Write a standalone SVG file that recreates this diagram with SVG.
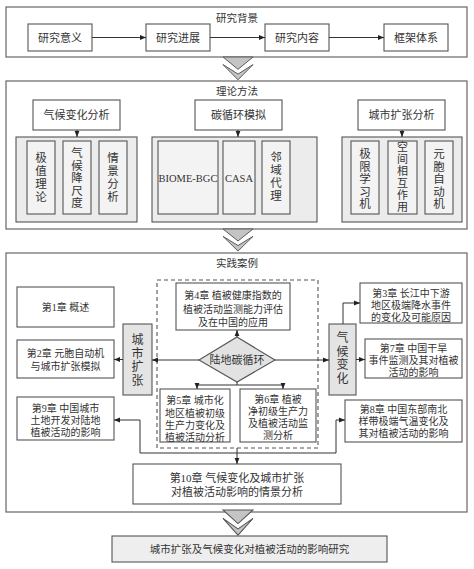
<svg xmlns="http://www.w3.org/2000/svg" width="474" height="569" viewBox="0 0 474 569">
<style>
text{font-family:"Liberation Serif","Noto Sans CJK SC",serif;fill:#333;text-anchor:middle;dominant-baseline:central}
.t10{font-size:10px}.t105{font-size:10.5px}.t11{font-size:11px}.t12{font-size:12px}.tv{font-size:11.5px}
.sec{fill:#fff;stroke:#666;stroke-width:1.2}
.box{fill:#fff;stroke:#555;stroke-width:1.1}
.cont{fill:#ececec;stroke:#555;stroke-width:1.1}
.inner{fill:#f3f3f3;stroke:#555;stroke-width:1.1}
.vbox{fill:#e4e4e4;stroke:#555;stroke-width:1.1}
.dash{fill:none;stroke:#555;stroke-width:1.1;stroke-dasharray:4 3}
.chev{fill:#c4c4c4;stroke:#555;stroke-width:1}
.ln{fill:none;stroke:#333;stroke-width:1}
.arr{fill:none;stroke:#333;stroke-width:1;marker-end:url(#ah)}
</style>
<defs>
<marker id="ah" viewBox="0 0 10 10" refX="10" refY="5" markerWidth="6" markerHeight="6" markerUnits="userSpaceOnUse" orient="auto"><path d="M0,1 L10,5 L0,9 z" fill="#222"/></marker>
<g id="chevron"><polygon points="-15,0 15,0 0,13"/><polygon points="-15,8 0,18 15,8 0,24"/></g>
</defs>

<g id="sec-background">
<rect class="sec" x="6" y="7" width="461" height="50"/>
<text class="t105" x="237" y="18">研究背景</text>
</g>
<g id="n-yjyy"><rect class="box" x="28" y="24" width="64" height="27"/><text class="t11" x="60" y="37.5">研究意义</text></g>
<g id="n-yjjz"><rect class="box" x="146" y="24" width="64" height="27"/><text class="t11" x="178" y="37.5">研究进展</text></g>
<g id="n-yjnr"><rect class="box" x="265" y="24" width="64" height="27"/><text class="t11" x="297" y="37.5">研究内容</text></g>
<g id="n-kjtx"><rect class="box" x="384" y="24" width="64" height="27"/><text class="t11" x="416" y="37.5">框架体系</text></g>

<g id="chev1" class="chev" transform="translate(238,57) scale(1,0.95)"><use href="#chevron"/></g>

<g id="sec-theory">
<rect class="sec" x="6" y="81" width="461" height="148"/>
<text class="t105" x="237" y="91">理论方法</text>
</g>
<g id="n-qhbh"><rect class="box" x="33" y="100" width="87" height="30"/><text class="t11" x="76.5" y="115">气候变化分析</text></g>
<g id="n-txhmn"><rect class="box" x="195" y="100" width="87" height="30"/><text class="t11" x="238.5" y="115">碳循环模拟</text></g>
<g id="n-cskz"><rect class="box" x="358" y="100" width="87" height="30"/><text class="t11" x="401.5" y="115">城市扩张分析</text></g>

<g id="c-climate"><rect class="cont" x="16" y="137" width="121" height="85"/>
<rect class="inner" x="27" y="141" width="28" height="73"/>
<text class="tv"><tspan x="41" y="158">极</tspan><tspan x="41" y="171">值</tspan><tspan x="41" y="184">理</tspan><tspan x="41" y="197">论</tspan></text>
<rect class="inner" x="63" y="141" width="28" height="73"/>
<text class="tv"><tspan x="77" y="153">气</tspan><tspan x="77" y="165.5">候</tspan><tspan x="77" y="178">降</tspan><tspan x="77" y="190.5">尺</tspan><tspan x="77" y="203">度</tspan></text>
<rect class="inner" x="99" y="141" width="28" height="73"/>
<text class="tv"><tspan x="113" y="158">情</tspan><tspan x="113" y="171">景</tspan><tspan x="113" y="184">分</tspan><tspan x="113" y="197">析</tspan></text>
</g>
<g id="c-carbon"><rect class="cont" x="152" y="137" width="165" height="85"/>
<rect class="inner" x="158" y="141" width="60" height="73"/>
<text class="t105" x="188" y="178">BIOME-BGC</text>
<rect class="inner" x="223" y="141" width="32" height="73"/>
<text class="t105" x="239" y="178">CASA</text>
<rect class="inner" x="262" y="141" width="28" height="73"/>
<text class="tv"><tspan x="276" y="157">邻</tspan><tspan x="276" y="170">域</tspan><tspan x="276" y="183">代</tspan><tspan x="276" y="196">理</tspan></text>
</g>
<g id="c-urban"><rect class="cont" x="342" y="137" width="120" height="85"/>
<rect class="inner" x="351" y="141" width="28" height="73"/>
<text class="tv"><tspan x="365" y="154">极</tspan><tspan x="365" y="166.5">限</tspan><tspan x="365" y="179">学</tspan><tspan x="365" y="191.5">习</tspan><tspan x="365" y="204">机</tspan></text>
<rect class="inner" x="388" y="141" width="29" height="73"/>
<text class="t11"><tspan x="402.5" y="147">空</tspan><tspan x="402.5" y="159">间</tspan><tspan x="402.5" y="171">相</tspan><tspan x="402.5" y="183">互</tspan><tspan x="402.5" y="195">作</tspan><tspan x="402.5" y="207">用</tspan></text>
<rect class="inner" x="425" y="141" width="28" height="73"/>
<text class="tv"><tspan x="439" y="154">元</tspan><tspan x="439" y="166.5">胞</tspan><tspan x="439" y="179">自</tspan><tspan x="439" y="191.5">动</tspan><tspan x="439" y="204">机</tspan></text>
</g>

<g id="chev2" class="chev" transform="translate(238,229) scale(1,0.92)"><use href="#chevron"/></g>

<g id="sec-practice">
<rect class="sec" x="6" y="253" width="461" height="259"/>
<text class="t105" x="237" y="263">实践案例</text>
<rect class="dash" x="157" y="280" width="161" height="168"/>
</g>

<g id="n-ch1"><rect class="box" x="17" y="287" width="97" height="40"/><text class="t10" x="65.5" y="307">第1章 概述</text></g>
<g id="n-ch2"><rect class="box" x="17" y="340" width="97" height="38"/><text class="t10"><tspan x="65.5" y="353">第2章 元胞自动机</tspan><tspan x="65.5" y="366">与城市扩张模拟</tspan></text></g>
<g id="n-ch9"><rect class="box" x="17" y="397" width="97" height="43"/><text class="t10"><tspan x="65.5" y="407.5">第9章 中国城市</tspan><tspan x="65.5" y="419.5">土地开发对陆地</tspan><tspan x="65.5" y="431.5">植被活动的影响</tspan></text></g>

<g id="n-urban"><rect class="vbox" x="123" y="324" width="29" height="71"/>
<text class="t12"><tspan x="137.5" y="340">城</tspan><tspan x="137.5" y="353.5">市</tspan><tspan x="137.5" y="367">扩</tspan><tspan x="137.5" y="380.5">张</tspan></text></g>
<g id="n-climate"><rect class="vbox" x="329" y="324" width="27" height="71"/>
<text class="t12"><tspan x="342.5" y="338">气</tspan><tspan x="342.5" y="351.5">候</tspan><tspan x="342.5" y="365">变</tspan><tspan x="342.5" y="378.5">化</tspan></text></g>

<g id="n-ch4"><rect class="box" x="176" y="283" width="114" height="47"/><text class="t10"><tspan x="233" y="295">第4章 植被健康指数的</tspan><tspan x="233" y="308.5">植被活动监测能力评估</tspan><tspan x="233" y="322">及在中国的应用</tspan></text></g>
<g id="n-carbon"><polygon points="237,337 275,360 237,382 199,360" fill="#e2e2e2" stroke="#555" stroke-width="1.1"/><text class="t11" x="237" y="360">陆地碳循环</text></g>
<g id="n-ch5"><rect class="box" x="160" y="389" width="70" height="53"/><text class="t10"><tspan x="195" y="400">第5章 城市化</tspan><tspan x="195" y="412.5">地区植被初级</tspan><tspan x="195" y="425">生产力变化及</tspan><tspan x="195" y="437">植被活动分析</tspan></text></g>
<g id="n-ch6"><rect class="box" x="240" y="389" width="76" height="53"/><text class="t10"><tspan x="278" y="399">第6章 植被</tspan><tspan x="278" y="411">净初级生产力</tspan><tspan x="278" y="423">及植被活动监</tspan><tspan x="278" y="434.5">测分析</tspan></text></g>

<g id="n-ch3"><rect class="box" x="360" y="283" width="102" height="40"/><text class="t10"><tspan x="411" y="293">第3章 长江中下游</tspan><tspan x="411" y="305">地区极端降水事件</tspan><tspan x="411" y="317">的变化及可能原因</tspan></text></g>
<g id="n-ch7"><rect class="box" x="365" y="339" width="97" height="39"/><text class="t10"><tspan x="413.5" y="348">第7章 中国干旱</tspan><tspan x="413.5" y="360">事件监测及其对植被</tspan><tspan x="413.5" y="371.5">活动的影响</tspan></text></g>
<g id="n-ch8"><rect class="box" x="345" y="400" width="117" height="42"/><text class="t10"><tspan x="403.5" y="409">第8章 中国东部南北</tspan><tspan x="403.5" y="421">样带极端气温变化及</tspan><tspan x="403.5" y="433">其对植被活动的影响</tspan></text></g>

<g id="n-ch10"><rect class="box" x="133" y="464" width="208" height="40"/><text class="t11"><tspan x="237" y="478">第10章 气候变化及城市扩张</tspan><tspan x="237" y="492">对植被活动影响的情景分析</tspan></text></g>

<g id="chev3" class="chev" transform="translate(238,510) scale(1,1.05)"><use href="#chevron"/></g>

<g id="n-final"><rect x="112" y="536" width="275" height="26" fill="#eeeeee" stroke="#555" stroke-width="1.1"/><text class="t105" x="249.5" y="549">城市扩张及气候变化对植被活动的影响研究</text></g>

<g id="connectors">
<line class="arr" x1="92" y1="37.5" x2="146" y2="37.5"/>
<line class="arr" x1="210" y1="37.5" x2="265" y2="37.5"/>
<line class="arr" x1="329" y1="37.5" x2="384" y2="37.5"/>
<line class="arr" x1="77" y1="130" x2="77" y2="137"/>
<line class="arr" x1="238" y1="130" x2="238" y2="137"/>
<line class="arr" x1="402" y1="130" x2="402" y2="137"/>
<line class="arr" x1="123" y1="359.5" x2="114" y2="359.5"/>
<line class="arr" x1="199" y1="360" x2="152" y2="360"/>
<line class="arr" x1="275" y1="360" x2="329" y2="360"/>
<line class="arr" x1="356" y1="359.5" x2="365" y2="359.5"/>
<polyline class="arr" points="343,324 343,303 360,303"/>
<line class="arr" x1="237" y1="337" x2="237" y2="330"/>
<line class="ln" x1="237" y1="382" x2="237" y2="385"/>
<polyline class="arr" points="237,385 197,385 197,389"/>
<polyline class="arr" points="237,385 283,385 283,389"/>
<line class="ln" x1="140" y1="453" x2="336" y2="453"/>
<polyline class="arr" points="140,453 140,420 114,420"/>
<polyline class="arr" points="336,453 336,420 345,420"/>
<line class="arr" x1="237" y1="448" x2="237" y2="464"/>
</g>
</svg>
